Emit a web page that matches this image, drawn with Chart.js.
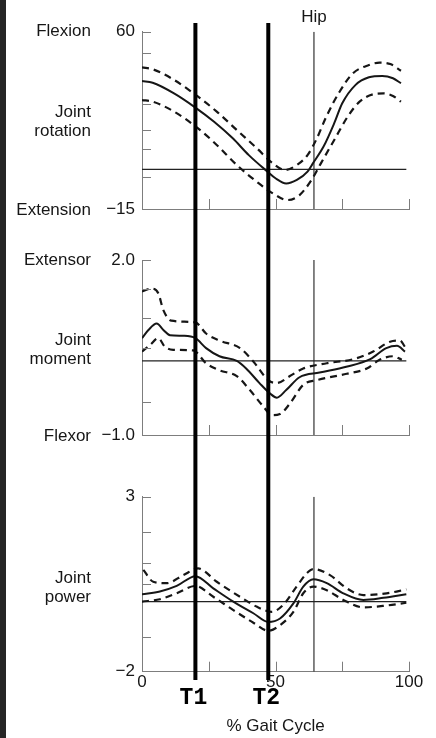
<!DOCTYPE html>
<html>
<head>
<meta charset="utf-8">
<script src="https://cdn.jsdelivr.net/npm/chart.js@4.4.1/dist/chart.umd.min.js"></script>
<style>
  html, body { margin: 0; padding: 0; background: #fff; width: 436px; height: 738px; overflow: hidden; }
  .strip { position: absolute; left: 0; top: 0; width: 6px; height: 738px; background: #262626; }
  canvas { position: absolute; left: 0; }
</style>
</head>
<body>
<div class="strip"></div>
<canvas id="rotation" width="436" height="236" style="top:0px"></canvas>
<canvas id="moment" width="436" height="236" style="top:236px"></canvas>
<canvas id="power" width="436" height="266" style="top:472px"></canvas>
<script>
// % gait cycle axis
const gaitTicks = [0, 25, 50, 75, 100];
const gaitLabels = ['0', '', '50', '', '100'];
const toeOff = 64.4;
const phaseLines = [20, 47.3];
const phaseNames = ['T1', 'T2'];

// Hip joint rotation (deg)
const rotRange = [-15, 60];
const rotTicks = [51, 29.5, 18.5, 10.5, -1.5];
const rotBaseline = 1.8;
const rotMeanX = [0, 4, 12, 20, 27, 34, 40, 47, 50, 54, 58, 62, 64, 68, 72, 75, 80, 85, 90, 94, 97];
const rotMean = [39.1, 38.4, 33.9, 27.9, 21.9, 14.9, 7.8, 0.8, -2.0, -4.2, -2.7, 0.8, 4.3, 11.4, 21.3, 29.7, 37.5, 40.7, 41.3, 40.3, 38.2];
const rotUpperX = [0, 4, 12, 21, 28, 35.5, 43, 49, 53.5, 58, 62, 65.5, 69, 74, 79, 85, 89, 93, 97];
const rotUpper = [44.9, 44.1, 39.6, 32.5, 26.2, 18.4, 10.7, 4.3, 1.5, 3.6, 7.8, 14.9, 24, 34.6, 42.4, 45.9, 46.9, 46.3, 43.5];
const rotLowerX = [0, 4, 12, 21, 28, 35.5, 43, 49, 54.5, 59, 63.5, 67, 72, 77, 81.5, 86.5, 90.5, 94, 97];
const rotLower = [31.1, 30.4, 26.2, 19.1, 12.1, 3.6, -3.5, -8.4, -11.2, -9.1, -2.7, 4.3, 14.2, 24, 30.4, 33.5, 33.9, 32.8, 30.4];

// Hip joint moment
const momRange = [-1, 2];
const momTicks = [1.5, 1.0, 0.5, -0.43];
const momBaseline = 0.27;
const momMeanX = [0, 2.4, 5.5, 8, 10.5, 15.5, 20, 24, 29, 35.5, 39, 44, 48, 50.5, 54, 59, 66.5, 76.5, 85.5, 91.5, 95.5, 98.5];
const momMean = [0.66, 0.80, 0.91, 0.80, 0.71, 0.70, 0.66, 0.49, 0.35, 0.27, 0.14, -0.11, -0.29, -0.36, -0.23, -0.01, 0.07, 0.17, 0.30, 0.49, 0.53, 0.43];
const momUpperX = [0, 3.6, 6.1, 8, 11, 20, 24, 29, 36.7, 41.7, 47.3, 50.4, 55.4, 60.4, 69.2, 79.2, 86.6, 92.9, 96.6, 98.5];
const momUpper = [1.46, 1.51, 1.43, 1.14, 0.96, 0.93, 0.74, 0.62, 0.49, 0.26, -0.06, -0.11, 0.01, 0.14, 0.23, 0.30, 0.43, 0.60, 0.62, 0.51];
const momLowerX = [0, 3, 6.1, 8.6, 11.7, 19.2, 24, 29, 35.5, 40.4, 45.4, 48.6, 51.7, 55.4, 60.4, 65.4, 76.7, 84.2, 89, 94, 97.3];
const momLower = [0.43, 0.54, 0.66, 0.51, 0.46, 0.45, 0.23, 0.11, 0.01, -0.23, -0.51, -0.66, -0.64, -0.46, -0.14, -0.06, 0.05, 0.14, 0.29, 0.35, 0.29];

// Hip joint power
const powRange = [-2, 3];
const powTicks = [2, 1.1, 0.5, -1];
const powBaseline = 0;
const powMeanX = [0, 6.7, 13, 20, 26.7, 34.2, 41.7, 47.3, 51.7, 56.7, 60.4, 64.2, 69.2, 75.4, 82.9, 90.4, 99];
const powMean = [0.21, 0.29, 0.45, 0.73, 0.38, 0.0, -0.33, -0.58, -0.48, -0.05, 0.43, 0.64, 0.53, 0.24, 0.05, 0.11, 0.21];
const powUpperX = [0.5, 4.2, 9.2, 15.5, 21, 28, 36.7, 42.9, 48.6, 52.9, 57.9, 61.7, 64.2, 70.4, 76.7, 82.9, 91.6, 99];
const powUpper = [0.91, 0.57, 0.53, 0.76, 0.95, 0.57, 0.14, -0.14, -0.29, -0.09, 0.43, 0.81, 0.93, 0.76, 0.38, 0.19, 0.24, 0.35];
const powLowerX = [0, 6.7, 13, 20, 26.7, 34.2, 41.7, 47.3, 51.7, 56.7, 60.4, 64.2, 69.2, 75.4, 82.9, 90.4, 99];
const powLower = [0.0, 0.07, 0.24, 0.45, 0.14, -0.24, -0.6, -0.83, -0.67, -0.29, 0.24, 0.43, 0.33, 0.05, -0.16, -0.12, -0.03];

const SANS = '"Liberation Sans", Arial, Helvetica, sans-serif';
const INK = '#161616';
const AXIS = '#7d7d7d';

const pts = (xs, ys) => xs.map((x, i) => ({ x, y: ys[i] }));
const minus = s => String(s).replace('-', '\u2212');

// draws inner tick marks, side words, phase lines and their labels
const gaitDecor = {
    id: 'gaitDecor',
    afterDraw(chart, args, o) {
        const { ctx, chartArea: a, scales: { x, y } } = chart;
        ctx.save();

        ctx.strokeStyle = AXIS;
        ctx.lineWidth = 1;
        ctx.beginPath();
        [y.max, ...o.minorTicks].forEach(v => {
            const py = Math.round(y.getPixelForValue(v)) + 0.5;
            ctx.moveTo(a.left, py);
            ctx.lineTo(a.left + 9, py);
        });
        gaitTicks.slice(1).forEach(v => {
            const px = Math.round(x.getPixelForValue(v)) + 0.5;
            ctx.moveTo(px, a.bottom);
            ctx.lineTo(px, a.bottom - 10);
        });
        ctx.stroke();

        ctx.fillStyle = INK;
        ctx.font = '17px ' + SANS;
        ctx.textAlign = 'right';
        ctx.textBaseline = 'middle';
        if (o.topWord) ctx.fillText(o.topWord, 91, a.top);
        if (o.bottomWord) ctx.fillText(o.bottomWord, 91, a.bottom + 1);
        const mid = (a.top + a.bottom) / 2 + o.midShift;
        ctx.fillText('Joint', 91, mid - 9.5);
        ctx.fillText(o.quantity, 91, mid + 9.5);

        if (o.joint) {
            ctx.textAlign = 'center';
            ctx.fillText(o.joint, x.getPixelForValue(toeOff), 17);
        }

        ctx.strokeStyle = '#000';
        ctx.lineWidth = 4;
        ctx.beginPath();
        phaseLines.forEach(v => {
            const px = x.getPixelForValue(v);
            ctx.moveTo(px, o.phaseTop);
            ctx.lineTo(px, o.phaseBottom);
        });
        ctx.stroke();

        if (o.phaseLabelY) {
            ctx.fillStyle = '#000';
            ctx.font = 'bold 23px "Liberation Mono", "DejaVu Sans Mono", monospace';
            ctx.textAlign = 'center';
            phaseLines.forEach((v, i) => ctx.fillText(phaseNames[i], x.getPixelForValue(v) - 2, o.phaseLabelY));
        }
        ctx.restore();
    }
};

function makePanel(id, p) {
    const solid = { borderColor: INK, borderWidth: 2, pointRadius: 0, cubicInterpolationMode: 'monotone', fill: false };
    const dashed = { ...solid, borderWidth: 2.2, borderDash: [7, 5] };
    return new Chart(document.getElementById(id), {
        type: 'line',
        data: {
            datasets: [
                { ...solid, data: pts(p.meanX, p.mean) },
                { ...dashed, data: pts(p.upperX, p.upper) },
                { ...dashed, data: pts(p.lowerX, p.lower) },
                { borderColor: '#222', borderWidth: 1.2, pointRadius: 0, data: pts([0, 99], [p.baseline, p.baseline]) },
                { borderColor: '#333', borderWidth: 1.2, pointRadius: 0, data: pts([toeOff, toeOff], p.range) }
            ]
        },
        options: {
            responsive: false,
            animation: false,
            layout: { padding: { top: p.padTop, bottom: p.padBottom, left: 0, right: 27 } },
            plugins: {
                legend: { display: false },
                tooltip: { enabled: false },
                gaitDecor: p.decor
            },
            scales: {
                x: {
                    type: 'linear',
                    min: 0,
                    max: 100,
                    afterBuildTicks: s => { s.ticks = gaitTicks.map(value => ({ value })); },
                    grid: { display: false, drawTicks: false },
                    border: { display: true, color: AXIS, width: 1 },
                    ticks: {
                        display: p.xLabels,
                        padding: 0,
                        color: INK,
                        font: { family: SANS, size: 17 },
                        maxRotation: 0,
                        autoSkip: false,
                        callback: (v, i) => gaitLabels[i]
                    },
                    title: {
                        display: p.xLabels,
                        text: '% Gait Cycle',
                        color: INK,
                        font: { family: SANS, size: 17 },
                        padding: { top: 24, bottom: 0 }
                    }
                },
                y: {
                    type: 'linear',
                    min: p.range[0],
                    max: p.range[1],
                    afterBuildTicks: s => { s.ticks = p.range.map(value => ({ value })); },
                    afterFit: s => { s.width = 142; },
                    grid: { display: false, drawTicks: false },
                    border: { display: true, color: AXIS, width: 1 },
                    ticks: {
                        padding: 7,
                        color: INK,
                        font: { family: SANS, size: 17 },
                        callback: v => minus(p.digits ? v.toFixed(p.digits) : v)
                    }
                }
            }
        },
        plugins: [gaitDecor]
    });
}

makePanel('rotation', {
    range: rotRange, baseline: rotBaseline, digits: 0,
    meanX: rotMeanX, mean: rotMean, upperX: rotUpperX, upper: rotUpper, lowerX: rotLowerX, lower: rotLower,
    padTop: 31.7, padBottom: 27, xLabels: false,
    decor: { minorTicks: rotTicks, topWord: 'Flexion', bottomWord: 'Extension', quantity: 'rotation', midShift: 1, joint: 'Hip', phaseTop: 23, phaseBottom: 236 }
});

makePanel('moment', {
    range: momRange, baseline: momBaseline, digits: 1,
    meanX: momMeanX, mean: momMean, upperX: momUpperX, upper: momUpper, lowerX: momLowerX, lower: momLower,
    padTop: 24, padBottom: 37, xLabels: false,
    decor: { minorTicks: momTicks, topWord: 'Extensor', bottomWord: 'Flexor', quantity: 'moment', midShift: 2, phaseTop: 0, phaseBottom: 236 }
});

makePanel('power', {
    range: powRange, baseline: powBaseline, digits: 0,
    meanX: powMeanX, mean: powMean, upperX: powUpperX, upper: powUpper, lowerX: powLowerX, lower: powLower,
    padTop: 24.7, padBottom: 1.5, xLabels: true,
    decor: { minorTicks: powTicks, quantity: 'power', midShift: 4, phaseTop: 0, phaseBottom: 208, phaseLabelY: 226 }
});
</script>
</body>
</html>
